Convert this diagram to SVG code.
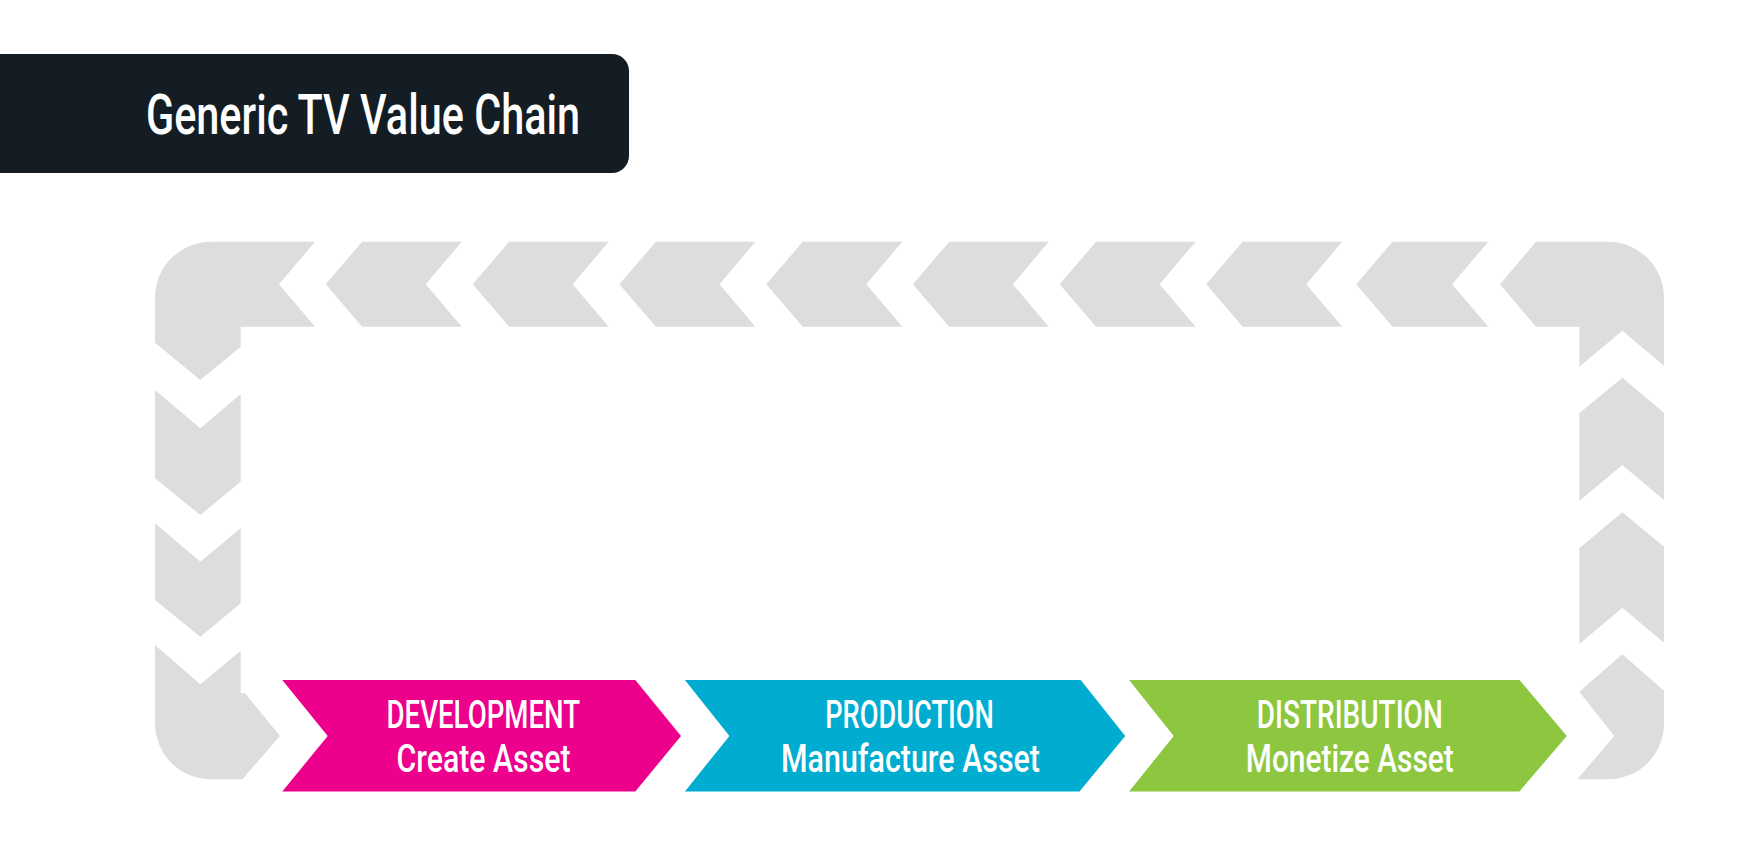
<svg xmlns="http://www.w3.org/2000/svg" xmlns:xlink="http://www.w3.org/1999/xlink" width="1746" height="854" viewBox="0 0 1746 854">
  <style>
    .loop { fill: #DCDDDF; }
    .lbl { font-family: "Roboto", "Liberation Sans", "DejaVu Sans", sans-serif; font-weight: 500; fill: #FFFFFF; text-anchor: middle; font-size: 39.5px; }
    .title { font-family: "Roboto", "Liberation Sans", "DejaVu Sans", sans-serif; font-weight: 500; fill: #FFFFFF; font-size: 55.5px; text-anchor: middle; }
  </style>
  <defs>
    <path id="chevL" d="M0,0 L36.5,-42.6 L136,-42.6 L100,0 L136,42.4 L36.5,42.4 Z"/>
  </defs>
  <rect x="0" y="0" width="1746" height="854" fill="#FFFFFF"/>

  <g id="title">
    <path d="M0,54 L612,54 A17,17 0 0 1 629,71 L629,156 A17,17 0 0 1 612,173 L0,173 Z" fill="#131D23"/>
    <text class="title" x="363" y="133.5" textLength="434" lengthAdjust="spacingAndGlyphs">Generic TV Value Chain</text>
  </g>

  <g id="connectors" class="loop">
    <!-- top-left corner -->
    <path d="M155,342.7 L155,297.7 A56,56 0 0 1 211,241.7 L315,241.7 L279,284.3 L315,326.7 L240.7,326.7 L240.7,346.7 L200.3,380 Z"/>
    <!-- top row, pointing left -->
    <use xlink:href="#chevL" href="#chevL" x="325.7" y="284.3"/>
    <use xlink:href="#chevL" href="#chevL" x="472.7" y="284.3"/>
    <use xlink:href="#chevL" href="#chevL" x="619.4" y="284.3"/>
    <use xlink:href="#chevL" href="#chevL" x="766.3" y="284.3"/>
    <use xlink:href="#chevL" href="#chevL" x="912.8" y="284.3"/>
    <use xlink:href="#chevL" href="#chevL" x="1059.6" y="284.3"/>
    <use xlink:href="#chevL" href="#chevL" x="1206.2" y="284.3"/>
    <path d="M1356.3,284.3 L1392.5,241.7 L1488.3,241.7 L1452.1,284.3 L1488.3,326.7 L1392.5,326.7 Z"/>
    <!-- top-right corner -->
    <path d="M1500,284.3 L1536,241.7 L1608,241.7 A56,56 0 0 1 1664,297.7 L1664,365.7 L1622.3,330.7 L1579.3,366.7 L1579.3,326.7 L1536,326.7 Z"/>
    <!-- right column, pointing up -->
    <path d="M1622.3,377.7 L1664,412.7 L1664,500 L1622.3,465 L1579.3,501 L1579.3,413.3 Z"/>
    <path d="M1622.3,512.3 L1664,546.7 L1664,642.7 L1622.3,607.7 L1579.3,644 L1579.3,548.3 Z"/>
    <!-- bottom-right corner -->
    <path d="M1579.3,691.7 L1622.3,654.3 L1664,690.7 L1664,723.3 A56,56 0 0 1 1608,779.3 L1577.3,779.3 L1614.3,736 Z"/>
    <!-- left column, pointing down -->
    <path d="M155,390 L200.3,428.3 L240.7,394 L240.7,481.7 L200.3,515 L155,478.3 Z"/>
    <path d="M155,523.3 L200.3,561.7 L240.7,528.3 L240.7,603.3 L200.3,636.7 L155,600 Z"/>
    <!-- bottom-left corner -->
    <path d="M155,645 L200.3,684.3 L240.7,650.7 L240.7,693.3 L245,693.3 L280,736 L242.3,779.3 L211,779.3 A56,56 0 0 1 155,723.3 Z"/>
  </g>

  <g id="development">
    <path d="M282.3,680 L635.3,680 L681,736 L635.3,791.5 L282.3,791.5 L327.7,736 Z" fill="#EC008C"/>
    <text class="lbl" x="483.3" y="727.7" textLength="193.5" lengthAdjust="spacingAndGlyphs">DEVELOPMENT</text>
    <text class="lbl" x="483.5" y="771.8" textLength="174" lengthAdjust="spacingAndGlyphs">Create Asset</text>
  </g>

  <g id="production">
    <path d="M684.9,680 L1080.7,680 L1125.2,736 L1079.5,791.5 L684.9,791.5 L729.4,736 Z" fill="#00ACD0"/>
    <text class="lbl" x="909.5" y="727.7" textLength="168.5" lengthAdjust="spacingAndGlyphs">PRODUCTION</text>
    <text class="lbl" x="910.5" y="771.8" textLength="259" lengthAdjust="spacingAndGlyphs">Manufacture Asset</text>
  </g>

  <g id="distribution">
    <path d="M1129.1,680 L1519.5,680 L1566.8,736 L1519.3,791.5 L1129.1,791.5 L1173.7,736 Z" fill="#8DC63F"/>
    <text class="lbl" x="1349.8" y="727.7" textLength="186" lengthAdjust="spacingAndGlyphs">DISTRIBUTION</text>
    <text class="lbl" x="1349.8" y="771.8" textLength="208" lengthAdjust="spacingAndGlyphs">Monetize Asset</text>
  </g>
</svg>
